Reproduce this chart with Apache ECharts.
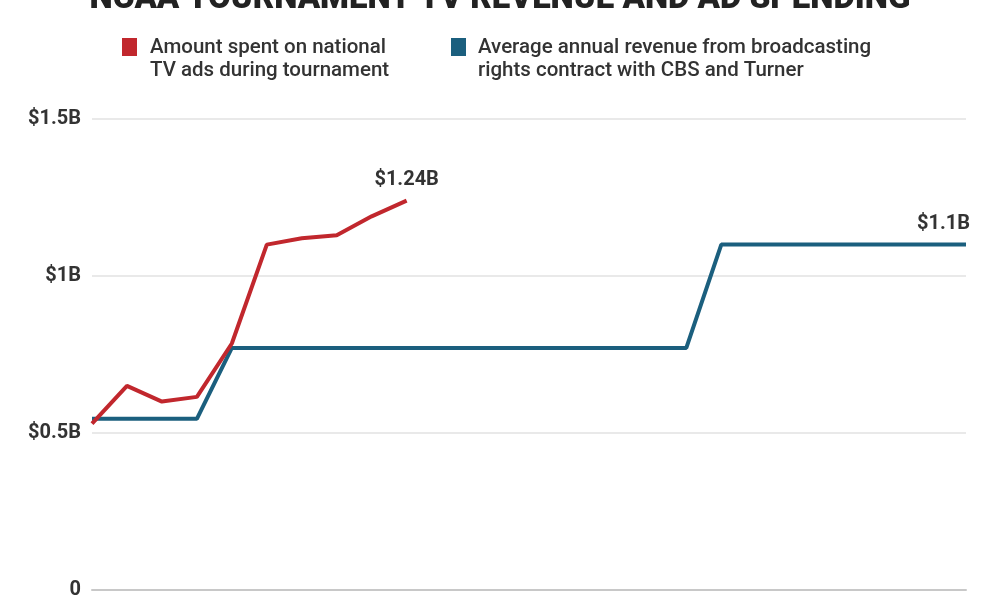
<!DOCTYPE html>
<html>
<head>
<meta charset="utf-8">
<script src="https://cdn.jsdelivr.net/npm/echarts@6/dist/echarts.min.js"></script>
<style>
html,body{margin:0;padding:0;background:#fff;}
#chart{width:1000px;height:600px;}
</style>
</head>
<body>
<div id="chart"></div>
<script>
const titleText = 'NCAA TOURNAMENT TV REVENUE AND AD SPENDING';
const years = ['2007','2008','2009','2010','2011','2012','2013','2014','2015','2016','2017','2018','2019','2020','2021','2022','2023','2024','2025','2026','2027','2028','2029','2030','2031','2032'];
const adSpendName = 'Amount spent on national\nTV ads during tournament';
const revenueName = 'Average annual revenue from broadcasting\nrights contract with CBS and Turner';
// values in billions of dollars
const adSpend = [0.53, 0.65, 0.60, 0.615, 0.785, 1.10, 1.12, 1.13, 1.19, 1.24];
const revenue = [0.545, 0.545, 0.545, 0.545, 0.771, 0.771, 0.771, 0.771, 0.771, 0.771, 0.771, 0.771, 0.771, 0.771, 0.771, 0.771, 0.771, 0.771, 1.1, 1.1, 1.1, 1.1, 1.1, 1.1, 1.1, 1.1];
const yTicks = {0: '0', 0.5: '$0.5B', 1: '$1B', 1.5: '$1.5B'};

const RED = '#c1272d';
const BLUE = '#1b5f7e';
const FONT = 'Roboto';

function withEndLabel(arr, text, offset, align) {
  return arr.map((v, i) => i === arr.length - 1 ? {
    value: v,
    label: {show: true, formatter: text, position: 'top', distance: 11, offset: offset, align: align,
      fontFamily: FONT, fontWeight: 'bold', fontSize: 20, color: '#333'}
  } : v);
}

const chart = echarts.init(document.getElementById('chart'), null, {renderer: 'canvas'});
chart.setOption({
  animation: false,
  backgroundColor: '#fff',
  grid: {left: 92, right: 34, top: 119, bottom: 7, containLabel: false},
  xAxis: {
    type: 'category', data: years, boundaryGap: false,
    axisLine: {show: true, lineStyle: {color: '#c8c8c8', width: 2}},
    axisTick: {show: false}, axisLabel: {show: false}, splitLine: {show: false}
  },
  yAxis: {
    type: 'value', min: 0, max: 1.5, interval: 0.5,
    axisLine: {show: false}, axisTick: {show: false},
    axisLabel: {formatter: v => yTicks[v] !== undefined ? yTicks[v] : '', margin: 11,
      fontFamily: FONT, fontWeight: 'bold', fontSize: 20, color: '#333'},
    splitLine: {lineStyle: {color: '#e2e2e2', width: 1.5}}
  },
  series: [
    {name: adSpendName, type: 'line', data: withEndLabel(adSpend, '$1.24B', [0, 0], 'center'),
     symbol: 'circle', symbolSize: 0.01, showSymbol: true,
     lineStyle: {color: RED, width: 4}, itemStyle: {color: RED}, z: 3},
    {name: revenueName, type: 'line', data: withEndLabel(revenue, '$1.1B', [4, 0], 'right'),
     symbol: 'circle', symbolSize: 0.01, showSymbol: true,
     lineStyle: {color: BLUE, width: 4}, itemStyle: {color: BLUE}, z: 2}
  ],
  graphic: [
    {type: 'text', left: 'center', top: -17,
     style: {text: titleText, fontFamily: FONT, fontWeight: 900, fontSize: 33, fill: '#222'}},
    {type: 'rect', shape: {x: 122, y: 38, width: 15, height: 18}, style: {fill: RED}},
    {type: 'text', x: 150, y: 36,
     style: {text: adSpendName, fontFamily: FONT, fontWeight: 500, fontSize: 20.5, lineHeight: 23, fill: '#333'}},
    {type: 'rect', shape: {x: 451, y: 38, width: 15, height: 18}, style: {fill: BLUE}},
    {type: 'text', x: 478, y: 36,
     style: {text: revenueName, fontFamily: FONT, fontWeight: 500, fontSize: 20.5, lineHeight: 23, fill: '#333'}}
  ]
});
</script>
</body>
</html>
